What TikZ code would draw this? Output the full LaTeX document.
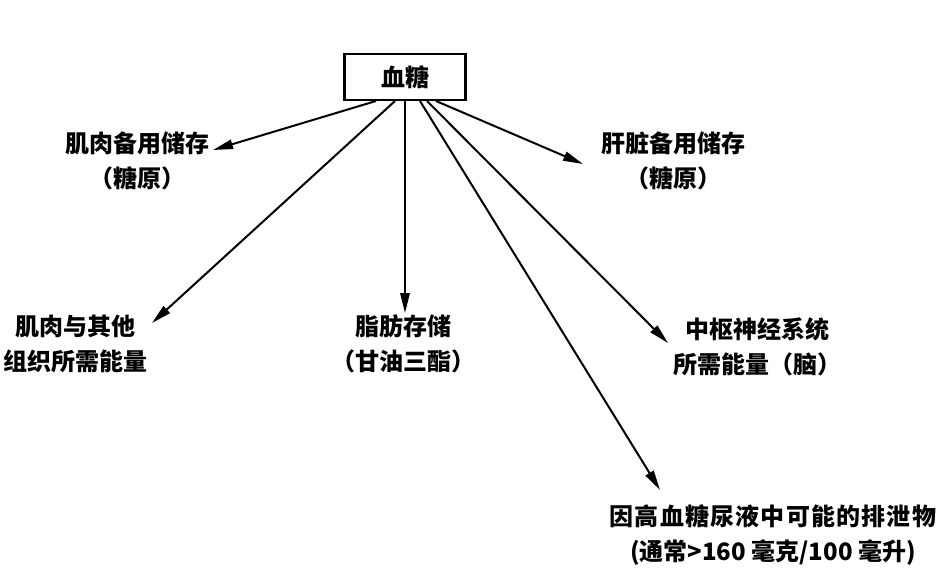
\documentclass[tikz,border=0pt]{standalone}
\usepackage{fontspec}
\setmainfont{Noto Sans CJK SC}
\usetikzlibrary{arrows.meta}
\begin{document}
\begin{tikzpicture}[x=0.75pt,y=-0.75pt,
  lbl/.style={font=\fontsize{18}{26}\selectfont\bfseries, align=center, inner sep=0pt},
  conn/.style={line width=1.5pt, -{Triangle[length=15pt,width=7pt]}},
  boxstyle/.style={draw, line width=1.6pt, minimum width=121*0.75pt, minimum height=46*0.75pt, font=\fontsize{18}{20}\selectfont\bfseries, inner sep=0pt}]
\useasboundingbox[fill=white] (0,0) rectangle (944,572);
\node[boxstyle] (bg) at (405,77) {血糖};
% start points on box bottom
\coordinate (s1) at (376,101);
\coordinate (s2) at (395,101);
\coordinate (s3) at (405,101);
\coordinate (s4) at (420,101);
\coordinate (s5) at (427,101);
\coordinate (s6) at (436,101);
% arrow tips
\coordinate (e1) at (213,150);
\coordinate (e2) at (152,323);
\coordinate (e3) at (405,313);
\coordinate (e4) at (660,490);
\coordinate (e5) at (668,343);
\coordinate (e6) at (583,164);
% labels
\node[lbl] (muscleStore) at (137,161) {肌肉备用储存\\（糖原）};
\node[lbl] (liverStore) at (673,161) {肝脏备用储存\\（糖原）};
\node[lbl] (muscleNeed) at (75,344) {肌肉与其他\\组织所需能量};
\node[lbl] (fat) at (403,344) {脂肪存储\\（甘油三酯）};
\node[lbl] (cns) at (757,347) {中枢神经系统\\所需能量（脑）};
\node[lbl] (urine) at (773,535) {{\addfontfeature{LetterSpace=5}因高血糖尿液中可能的排泄物}\\(通常>160 毫克/100 毫升)};
% connectors
\draw[conn] (s1) -- (e1);
\draw[conn] (s2) -- (e2);
\draw[conn] (s3) -- (e3);
\draw[conn] (s4) -- (e4);
\draw[conn] (s5) -- (e5);
\draw[conn] (s6) -- (e6);
\end{tikzpicture}
\end{document}
